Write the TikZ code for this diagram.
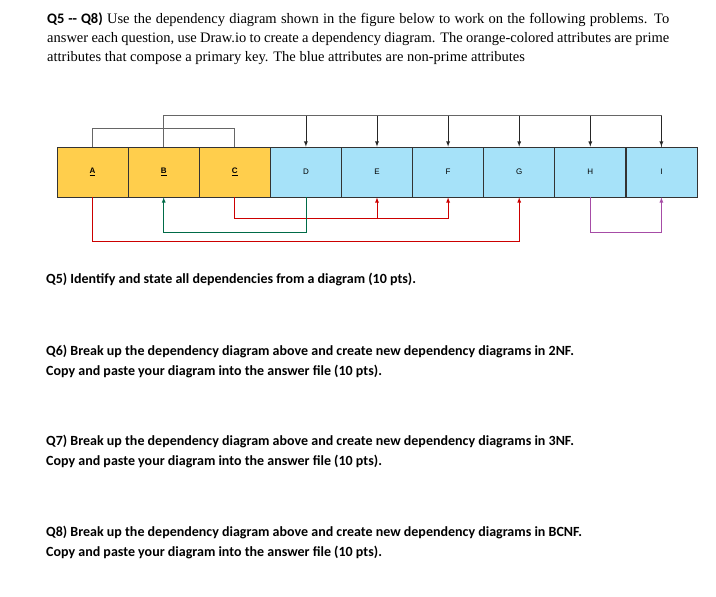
\documentclass[tikz,border=0pt]{standalone}
\usepackage{fontspec}
\usetikzlibrary{calc}
\setmainfont{Liberation Serif}
\newfontfamily\calfnt{Carlito}
\newfontfamily\lsans{Liberation Sans}
\begin{document}
\begin{tikzpicture}[x=1pt,y=-1pt,
  pk/.style={draw=black!80,fill=orange!55!yellow!70,minimum width=71pt,minimum height=50pt,inner sep=0pt,font=\lsans\fontsize{8}{8}\selectfont\bfseries,line width=0.8pt},
  npk/.style={draw=black!80,fill=cyan!35,minimum width=71pt,minimum height=50pt,inner sep=0pt,font=\lsans\fontsize{8}{8}\selectfont,line width=0.8pt},
  dep/.style={line width=0.8pt,-latex},
  lnk/.style={gray!80!black,line width=0.9pt},
  q/.style={anchor=north west,inner sep=0pt,font=\calfnt\bfseries\fontsize{14}{20}\selectfont,align=left}]
\useasboundingbox[fill=white] (0,0) rectangle (716,597);
\node[anchor=north west,inner sep=0pt,text width=622pt,align=justify,font=\fontsize{14.5}{19}\selectfont] (t) at (47,13)
 {{\calfnt\bfseries Q5 -- Q8)} Use the dependency diagram shown in the figure below to work on the following problems. To answer each question, use Draw.io to create a dependency diagram. The orange-colored attributes are prime attributes that compose a primary key. The blue attributes are non-prime attributes};
\foreach \n/\l [count=\i] in {A/\underline{A},B/\underline{B},C/\underline{C}}
  \node[pk] (\n) at (57+71.1*\i-35.5,172) {\l};
\foreach \n [count=\i from 4] in {D,E,F,G,H,I}
  \node[npk] (\n) at (57+71.1*\i-35.5,172) {\n};
% top
\coordinate (ta) at ($(A.north)+(0,-18)$);
\draw[lnk] (A.north) |- (B.north|-ta) -| (C.north);
\coordinate (tb) at ($(B.north)+(0,-31)$);
\draw[lnk] (B.north) -- (tb) -| (I.north);
\foreach \n in {D,E,F,G,H,I} \draw[dep,black!85] (\n.north|-tb) -- (\n.north);
% bottom
\draw[dep,red!80!black] (C.south) |- ($(F.south)+(0,21)$) -- (F.south);
\draw[dep,red!80!black] (E.south|-0,218) -- (E.south);
\draw[dep,teal!80!green!70!black] (D.south) |- ($(B.south)+(0,35)$) -- (B.south);
\draw[dep,red!80!black] (A.south) |- ($(G.south)+(0,44)$) -- (G.south);
\draw[dep,violet!70] (H.south) |- ($(I.south)+(0,35)$) -- (I.south);
\node[q] (q5) at (46,273) {Q5) Identify and state all dependencies from a diagram (10 pts).};
\node[q] (q6) at (46,345) {Q6) Break up the dependency diagram above and create new dependency diagrams in 2NF.\\Copy and paste your diagram into the answer file (10 pts).};
\node[q] (q7) at (46,435) {Q7) Break up the dependency diagram above and create new dependency diagrams in 3NF.\\Copy and paste your diagram into the answer file (10 pts).};
\node[q] (q8) at (46,526) {Q8) Break up the dependency diagram above and create new dependency diagrams in BCNF.\\Copy and paste your diagram into the answer file (10 pts).};
\end{tikzpicture}
\end{document}
